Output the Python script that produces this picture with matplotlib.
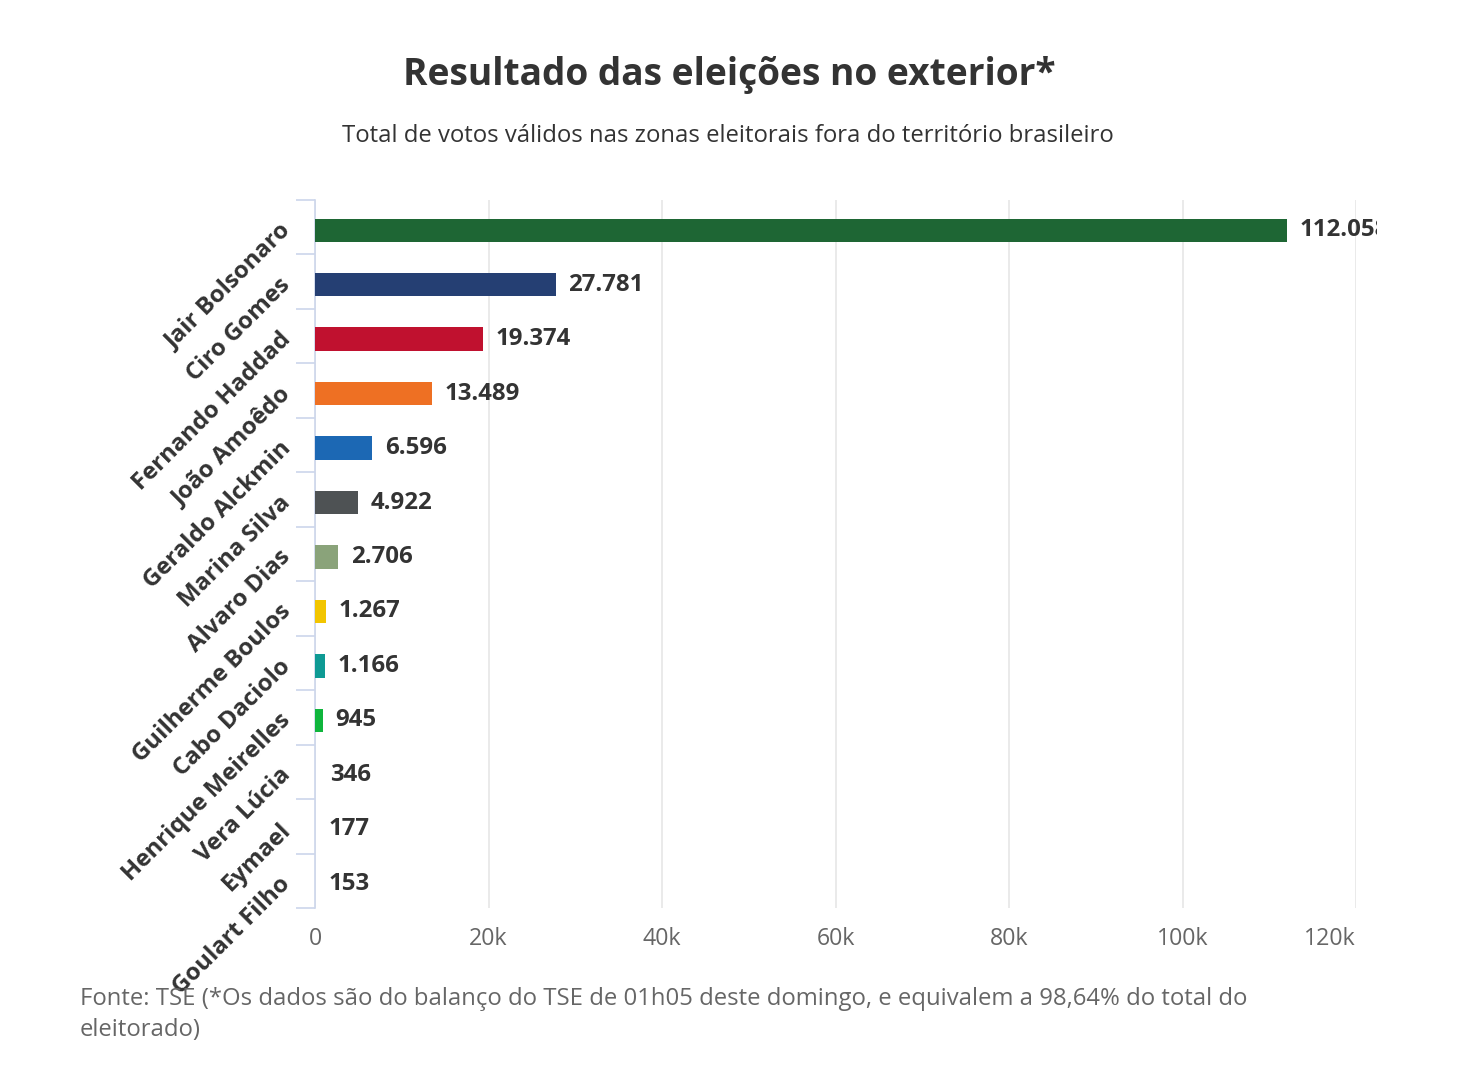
import matplotlib
matplotlib.use("Agg")
import matplotlib.pyplot as plt
from matplotlib.patches import Rectangle

plt.rcParams['font.family'] = ['Open Sans', 'DejaVu Sans']

candidates = ["Jair Bolsonaro", "Ciro Gomes", "Fernando Haddad", "João Amoêdo",
              "Geraldo Alckmin", "Marina Silva", "Alvaro Dias", "Guilherme Boulos",
              "Cabo Daciolo", "Henrique Meirelles", "Vera Lúcia", "Eymael", "Goulart Filho"]
votes = [112058, 27781, 19374, 13489, 6596, 4922, 2706, 1267, 1166, 945, 346, 177, 153]
labels = ["112.058", "27.781", "19.374", "13.489", "6.596", "4.922", "2.706",
          "1.267", "1.166", "945", "346", "177", "153"]
colors = ["#1e6634", "#253f73", "#c0112f", "#ee7023", "#1c68b4", "#4e5254", "#8aa37a",
          "#f2c500", "#0e9a94", "#0fb53c", "none", "none", "none"]
xticks = [0, 20000, 40000, 60000, 80000, 100000, 120000]
xticklabels = ["0", "20k", "40k", "60k", "80k", "100k", "120k"]

W, H = 1466, 1080
fig = plt.figure(figsize=(W / 100, H / 100), dpi=100)
ax = fig.add_axes([315 / W, 1 - 908 / H, (1356 - 315) / W, (908 - 200) / H])

n = len(candidates)
ypos = list(range(n))
bar_y = [y + 0.055 for y in ypos]
ax.barh(bar_y, votes, height=0.43, color=colors, zorder=3)
ax.set_ylim(n - 0.5, -0.5)
ax.set_xlim(0, 120000)

ax.set_xticks(xticks)
ax.set_xticklabels(xticklabels, fontsize=16.7, color="#666666")
ax.tick_params(axis='x', length=0, pad=14)
xt = ax.get_xticklabels()
xt[-1].set_ha('right')
ax.grid(axis='x', color="#e6e6e6", linewidth=1.2, zorder=0)

ax.set_yticks(ypos)
ax.set_yticklabels(candidates, rotation=45, ha='right', va='center',
                   rotation_mode='anchor', fontsize=17.2, fontweight='bold', color="#333333")
ax.tick_params(axis='y', length=0, pad=20)
# category boundary ticks
ax.set_yticks([i - 0.5 for i in range(n + 1)], minor=True)
ax.tick_params(axis='y', which='minor', length=14, width=1.2, color="#ccd6eb")

for s in ['top', 'right', 'bottom']:
    ax.spines[s].set_visible(False)
ax.spines['left'].set_color("#ccd6eb")
ax.spines['left'].set_linewidth(1.2)

clip = Rectangle((0, 0), 1377 / W, 1, transform=fig.transFigure, fill=False, visible=False)
fig.add_artist(clip)
for y, v, lab in zip(bar_y, votes, labels):
    t = ax.annotate(lab, (v, y), xytext=(9, 0), textcoords='offset points',
                    ha='left', va='center', fontsize=17.3, fontweight='bold',
                    color="#333333", zorder=4, annotation_clip=False)
    t.set_clip_path(clip)

fig.text(729 / W, 1 - 75 / H, "Resultado das eleições no exterior*", ha='center', va='center',
         fontsize=26.7, fontweight='bold', color="#333333")
fig.text(728 / W, 1 - 136 / H, "Total de votos válidos nas zonas eleitorais fora do território brasileiro",
         ha='center', va='center', fontsize=17.2, color="#333333")
fig.text(80 / W, 1 - 999 / H,
         "Fonte: TSE (*Os dados são do balanço do TSE de 01h05 deste domingo, e equivalem a 98,64% do total do",
         ha='left', va='center', fontsize=17.2, color="#666666")
fig.text(80 / W, 1 - 1030 / H, "eleitorado)", ha='left', va='center', fontsize=17.2, color="#666666")

fig.savefig("out.png", dpi=100, facecolor="white")
